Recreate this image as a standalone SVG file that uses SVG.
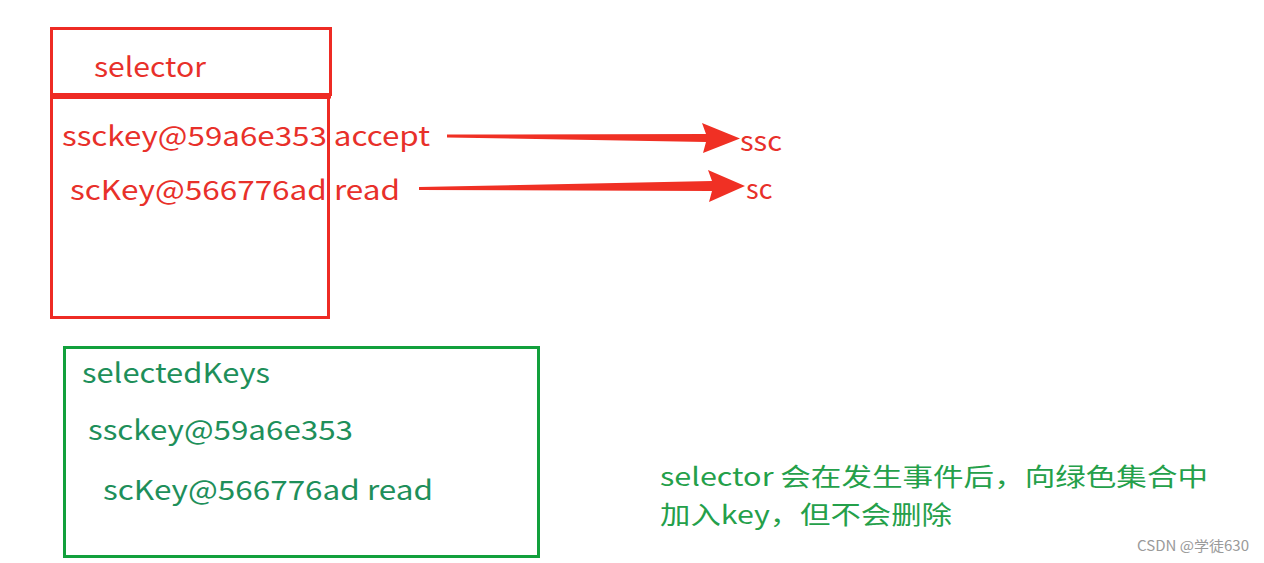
<svg xmlns="http://www.w3.org/2000/svg" width="1264" height="563" viewBox="0 0 1264 563">
<style>
.r{fill:none;stroke:#ee2b24;stroke-width:3}
.g{fill:none;stroke:#12a03c;stroke-width:3}
.tr{fill:#e8302a;font-family:"Noto Sans CJK SC","Noto Sans",sans-serif;font-size:27px}
.tg{fill:#1e8f5a;font-family:"Noto Sans CJK SC","Noto Sans",sans-serif;font-size:27px}
.tc{fill:#24a04a;font-family:"Noto Sans CJK SC","Noto Sans",sans-serif;font-size:25px}
.wm{fill:#9a9a9a;font-family:"Noto Sans CJK SC","Noto Sans",sans-serif;font-size:14px}
.arr{fill:#f03024}
</style>
<rect width="1264" height="563" fill="#ffffff"/>
<g id="selector">
<rect class="r" x="51.5" y="28.5" width="279" height="66"/>
<text class="tr" x="94" y="77" textLength="112" lengthAdjust="spacingAndGlyphs">selector</text>
</g>
<g id="selector-keys">
<rect class="r" x="51.5" y="97.5" width="277" height="220"/>
<line x1="51" y1="96" x2="331" y2="96" stroke="#ee2b24" stroke-width="5"/>
<text class="tr" x="62" y="146" textLength="368" lengthAdjust="spacingAndGlyphs">ssckey@59a6e353 accept</text>
<text class="tr" x="70" y="200" textLength="330" lengthAdjust="spacingAndGlyphs">scKey@566776ad read</text>
</g>
<g id="ssc">
<text class="tr" x="740" y="151" textLength="42" lengthAdjust="spacingAndGlyphs">ssc</text>
</g>
<g id="sc">
<text class="tr" x="746" y="199">sc</text>
</g>
<g id="selectedKeys">
<rect class="g" x="64.5" y="347.5" width="474" height="209"/>
<text class="tg" x="82" y="383" textLength="188" lengthAdjust="spacingAndGlyphs">selectedKeys</text>
<text class="tg" x="88" y="440" textLength="265" lengthAdjust="spacingAndGlyphs">ssckey@59a6e353</text>
<text class="tg" x="103" y="500" textLength="330" lengthAdjust="spacingAndGlyphs">scKey@566776ad read</text>
</g>
<g id="note">
<text class="tc" x="660" y="486" textLength="548" lengthAdjust="spacingAndGlyphs">selector 会在发生事件后，向绿色集合中</text>
<text class="tc" x="660" y="524" textLength="292" lengthAdjust="spacingAndGlyphs">加入key，但不会删除</text>
</g>
<g id="connectors">
<path class="arr" d="M447,134.5 L706,134 L702,123 L740,138.5 L703,153 L706,142 L447,137.5 Z"/>
<path class="arr" d="M419,187 L712,181 L708,170 L745,186 L709,202 L712,191 L419,190 Z"/>
</g>
<text class="wm" x="1137" y="551" textLength="112" lengthAdjust="spacingAndGlyphs">CSDN @学徒630</text>
</svg>
